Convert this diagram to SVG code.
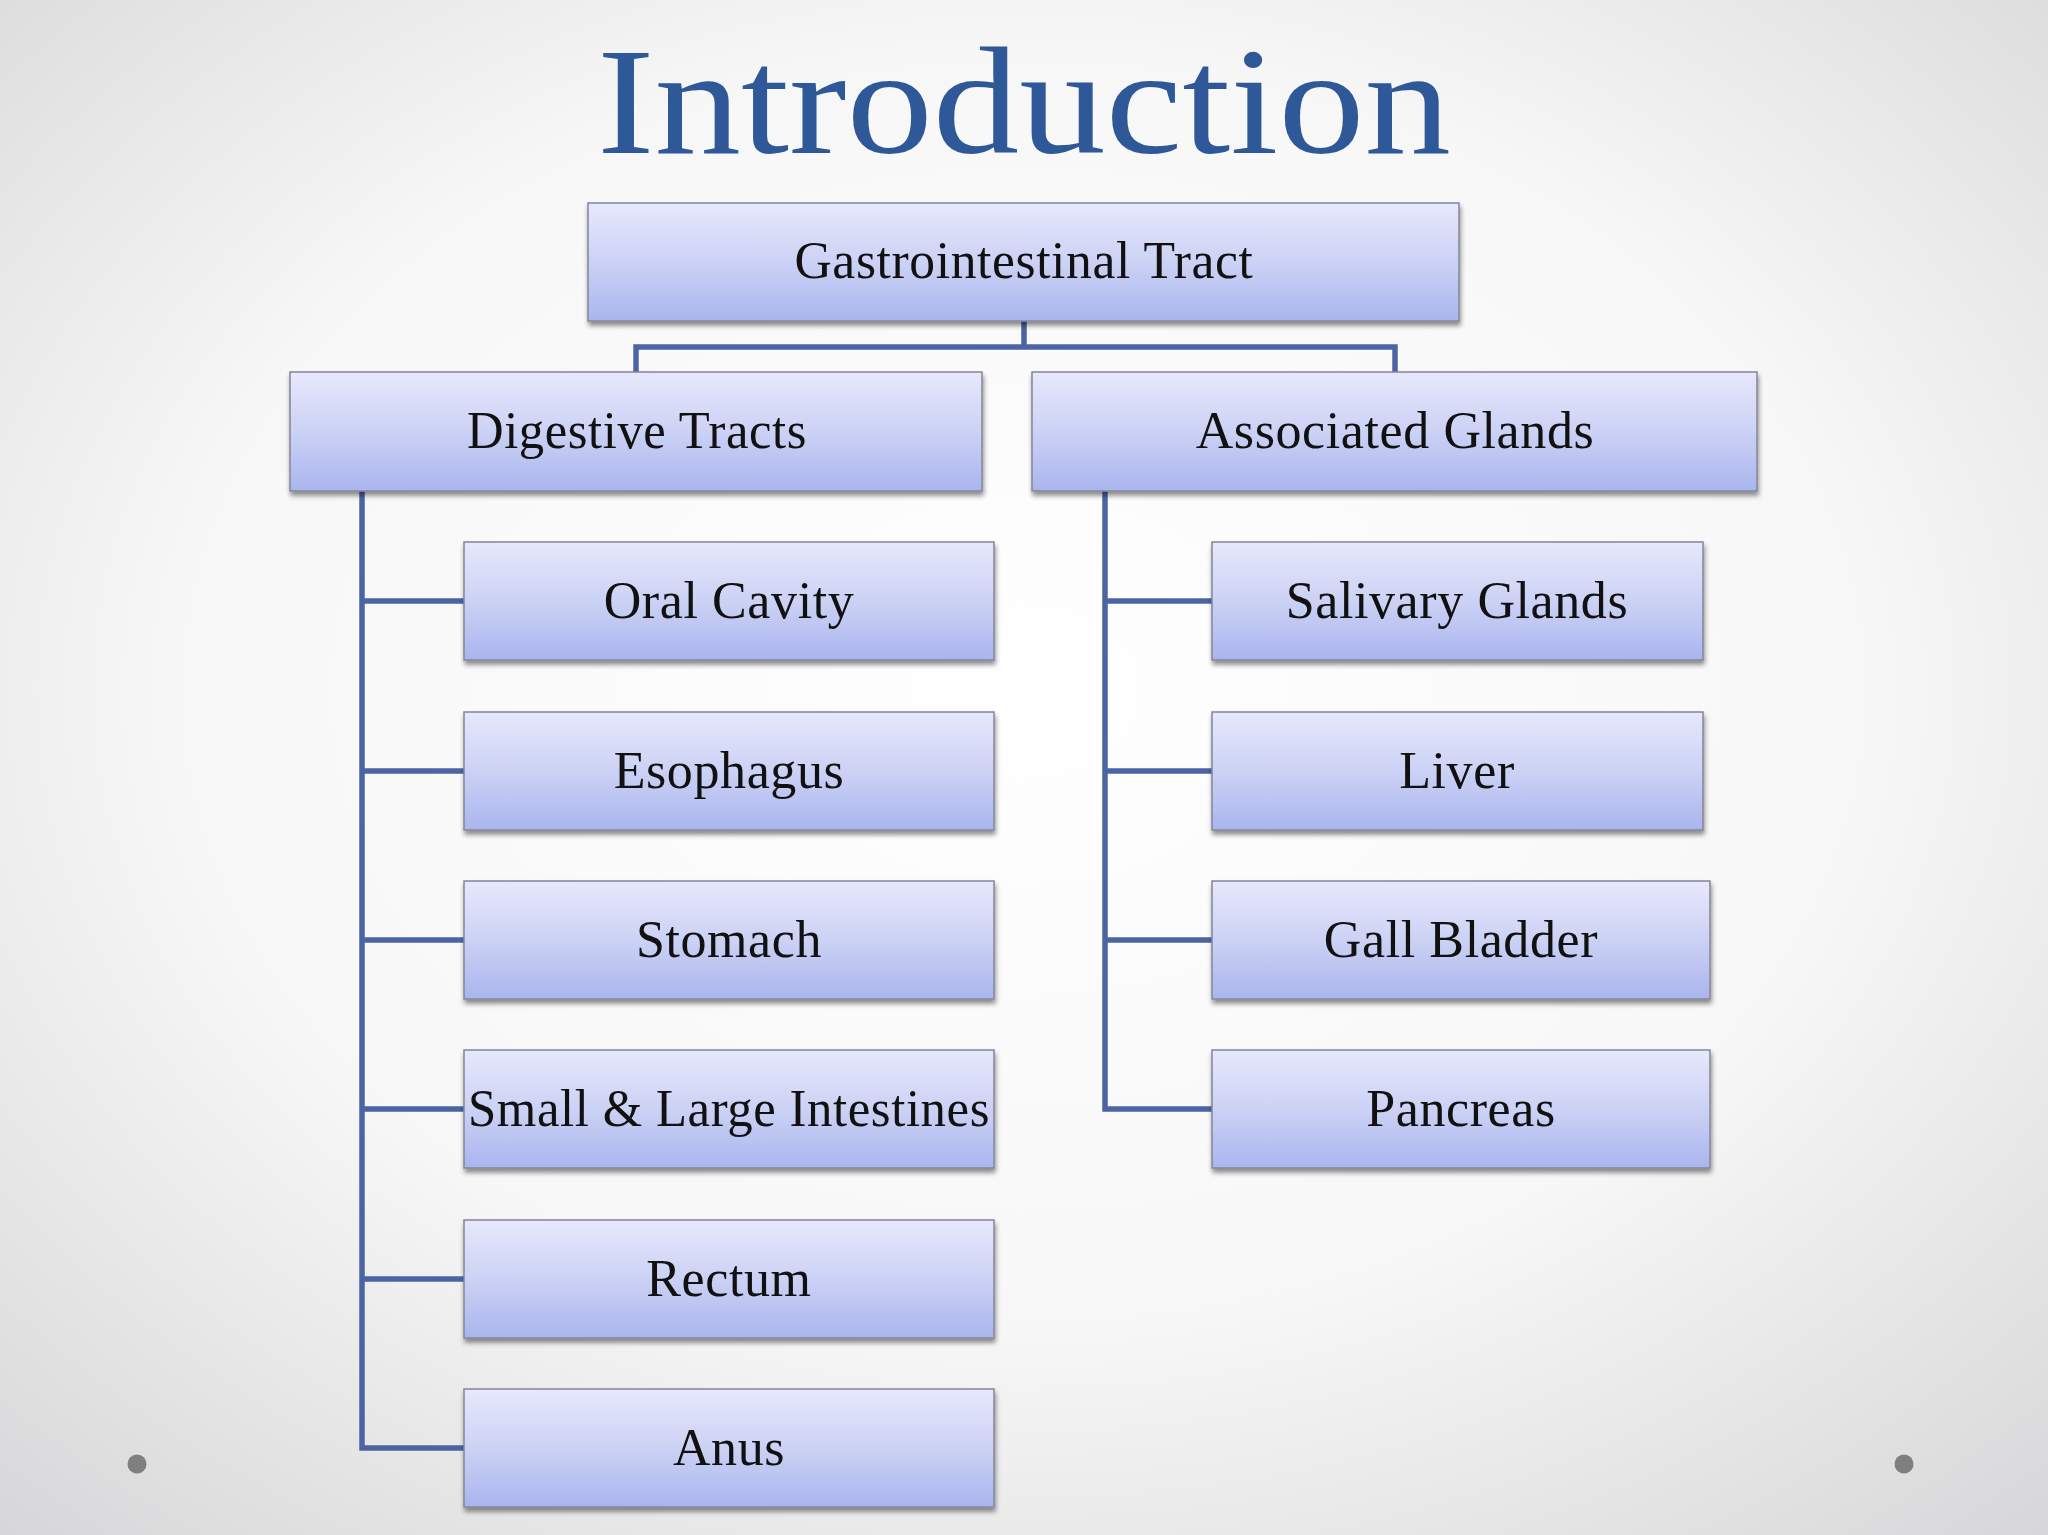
<svg xmlns="http://www.w3.org/2000/svg" width="2048" height="1535" viewBox="0 0 2048 1535">
<defs>
<radialGradient id="bg" cx="50%" cy="45%" r="75%">
<stop offset="0" stop-color="#ffffff"/>
<stop offset="0.55" stop-color="#f7f7f7"/>
<stop offset="1" stop-color="#d6d6d8"/>
</radialGradient>
<linearGradient id="box" x1="0" y1="0" x2="0" y2="1">
<stop offset="0" stop-color="#e7e8fb"/>
<stop offset="0.5" stop-color="#ccd2f5"/>
<stop offset="1" stop-color="#a9b5ee"/>
</linearGradient>
<filter id="sh" x="-5%" y="-10%" width="110%" height="130%">
<feGaussianBlur in="SourceAlpha" stdDeviation="2.5"/>
<feOffset dx="1" dy="4" result="b"/>
<feComponentTransfer><feFuncA type="linear" slope="0.45"/></feComponentTransfer>
<feMerge><feMergeNode/><feMergeNode in="SourceGraphic"/></feMerge>
</filter>
</defs>
<style>
.n rect{fill:url(#box);stroke:#85859a;stroke-width:1.5;filter:url(#sh)}
.n text{font-family:"Liberation Serif","DejaVu Serif",serif;font-size:52px;letter-spacing:0.6px;fill:#111;text-anchor:middle}
#connectors path{fill:none;stroke:#4c64a4;stroke-width:5.5;stroke-linejoin:miter}
.title{font-family:"Liberation Serif","DejaVu Serif",serif;font-size:152px;fill:#2f5898;text-anchor:middle}
.dot{fill:#7f7f7f}
</style>
<rect width="2048" height="1535" fill="url(#bg)"/>
<text class="title" x="1024" y="153" textLength="854" lengthAdjust="spacingAndGlyphs">Introduction</text>
<circle class="dot" cx="137" cy="1464" r="9.5"/>
<circle class="dot" cx="1904" cy="1464" r="9.5"/>
<g id="connectors">
<path d="M1024,321 V347 M636,372 V347 H1395 V372"/>
<path d="M362,491 V1448 H464 M362,601 H464 M362,771 H464 M362,940 H464 M362,1109 H464 M362,1279 H464"/>
<path d="M1105,491 V1109 H1212 M1105,601 H1212 M1105,771 H1212 M1105,940 H1212"/>
</g>
<g id="gi" class="n"><rect x="588" y="203" width="871" height="118"/><text x="1024" y="278" textLength="459" lengthAdjust="spacingAndGlyphs">Gastrointestinal Tract</text></g>
<g id="digestive" class="n"><rect x="290" y="372" width="692" height="119"/><text x="637" y="448" textLength="340" lengthAdjust="spacingAndGlyphs">Digestive Tracts</text></g>
<g id="glands" class="n"><rect x="1032" y="372" width="725" height="119"/><text x="1395" y="448">Associated Glands</text></g>
<g id="oral" class="n"><rect x="464" y="542" width="530" height="118"/><text x="729" y="618">Oral Cavity</text></g>
<g id="esophagus" class="n"><rect x="464" y="712" width="530" height="118"/><text x="729" y="788">Esophagus</text></g>
<g id="stomach" class="n"><rect x="464" y="881" width="530" height="118"/><text x="729" y="957">Stomach</text></g>
<g id="intestines" class="n"><rect x="464" y="1050" width="530" height="118"/><text x="729" y="1126" textLength="522" lengthAdjust="spacingAndGlyphs">Small &amp; Large Intestines</text></g>
<g id="rectum" class="n"><rect x="464" y="1220" width="530" height="118"/><text x="729" y="1296">Rectum</text></g>
<g id="anus" class="n"><rect x="464" y="1389" width="530" height="118"/><text x="729" y="1465">Anus</text></g>
<g id="salivary" class="n"><rect x="1212" y="542" width="491" height="118"/><text x="1457" y="618">Salivary Glands</text></g>
<g id="liver" class="n"><rect x="1212" y="712" width="491" height="118"/><text x="1457" y="788">Liver</text></g>
<g id="gall" class="n"><rect x="1212" y="881" width="498" height="118"/><text x="1461" y="957">Gall Bladder</text></g>
<g id="pancreas" class="n"><rect x="1212" y="1050" width="498" height="118"/><text x="1461" y="1126">Pancreas</text></g>
</svg>
